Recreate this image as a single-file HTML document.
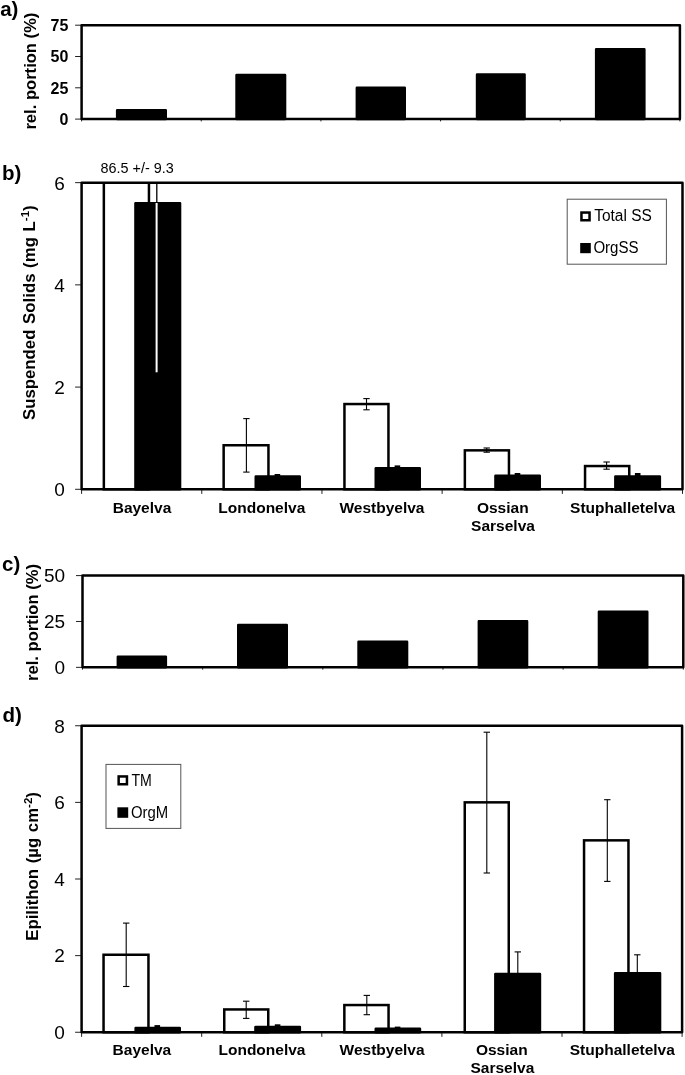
<!DOCTYPE html>
<html lang="en">
<head>
<meta charset="utf-8">
<title>Figure</title>
<style>
html,body{margin:0;padding:0;background:#fff;}
svg{display:block;}
text{font-family:"Liberation Sans",sans-serif;fill:#000;}
</style>
</head>
<body>
<svg width="685" height="1075" viewBox="0 0 685 1075">
<rect x="0" y="0" width="685" height="1075" fill="#fff"/>
<line x1="75.1" y1="119.1" x2="81.6" y2="119.1" stroke="#222" stroke-width="1"/>
<line x1="75.1" y1="87.8" x2="81.6" y2="87.8" stroke="#222" stroke-width="1"/>
<line x1="75.1" y1="56.5" x2="81.6" y2="56.5" stroke="#222" stroke-width="1"/>
<line x1="75.1" y1="25.200000000000003" x2="81.6" y2="25.200000000000003" stroke="#222" stroke-width="1"/>
<line x1="81.60" y1="119.1" x2="81.60" y2="121.39999999999999" stroke="#222" stroke-width="1"/>
<line x1="201.26" y1="119.1" x2="201.26" y2="121.39999999999999" stroke="#222" stroke-width="1"/>
<line x1="320.92" y1="119.1" x2="320.92" y2="121.39999999999999" stroke="#222" stroke-width="1"/>
<line x1="440.58" y1="119.1" x2="440.58" y2="121.39999999999999" stroke="#222" stroke-width="1"/>
<line x1="560.24" y1="119.1" x2="560.24" y2="121.39999999999999" stroke="#222" stroke-width="1"/>
<line x1="679.90" y1="119.1" x2="679.90" y2="121.39999999999999" stroke="#222" stroke-width="1"/>
<rect x="117.15" y="110.25" width="48.60" height="8.85" fill="#000" stroke="#000" stroke-width="2.5" stroke-linejoin="round"/>
<rect x="236.55" y="75.05" width="48.50" height="44.05" fill="#000" stroke="#000" stroke-width="2.5" stroke-linejoin="round"/>
<rect x="356.85" y="87.75" width="47.90" height="31.35" fill="#000" stroke="#000" stroke-width="2.5" stroke-linejoin="round"/>
<rect x="477.05" y="74.45" width="47.50" height="44.65" fill="#000" stroke="#000" stroke-width="2.5" stroke-linejoin="round"/>
<rect x="596.15" y="49.25" width="48.20" height="69.85" fill="#000" stroke="#000" stroke-width="2.5" stroke-linejoin="round"/>
<rect x="81.6" y="25.2" width="598.3" height="93.89999999999999" fill="none" stroke="#000" stroke-width="2.5" stroke-linejoin="round"/>
<text x="68.4" y="124.8" font-size="16" font-weight="bold" text-anchor="end" >0</text>
<text x="68.4" y="93.5" font-size="16" font-weight="bold" text-anchor="end" >25</text>
<text x="68.4" y="62.2" font-size="16" font-weight="bold" text-anchor="end" >50</text>
<text x="68.4" y="30.9" font-size="16" font-weight="bold" text-anchor="end" >75</text>
<text x="0.2" y="16.4" font-size="20.5" font-weight="bold" text-anchor="start" >a)</text>
<text transform="translate(35.8,129.6) rotate(-90)" font-size="16.6" font-weight="bold" textLength="117" lengthAdjust="spacingAndGlyphs">rel. portion (%)</text>
<line x1="75.1" y1="489.3" x2="81.6" y2="489.3" stroke="#222" stroke-width="1"/>
<line x1="75.1" y1="387.08333333333337" x2="81.6" y2="387.08333333333337" stroke="#222" stroke-width="1"/>
<line x1="75.1" y1="284.8666666666667" x2="81.6" y2="284.8666666666667" stroke="#222" stroke-width="1"/>
<line x1="75.1" y1="182.65000000000003" x2="81.6" y2="182.65000000000003" stroke="#222" stroke-width="1"/>
<line x1="81.60" y1="489.3" x2="81.60" y2="493.90000000000003" stroke="#222" stroke-width="1"/>
<line x1="201.78" y1="489.3" x2="201.78" y2="493.90000000000003" stroke="#222" stroke-width="1"/>
<line x1="321.96" y1="489.3" x2="321.96" y2="493.90000000000003" stroke="#222" stroke-width="1"/>
<line x1="442.14" y1="489.3" x2="442.14" y2="493.90000000000003" stroke="#222" stroke-width="1"/>
<line x1="562.32" y1="489.3" x2="562.32" y2="493.90000000000003" stroke="#222" stroke-width="1"/>
<line x1="682.50" y1="489.3" x2="682.50" y2="493.90000000000003" stroke="#222" stroke-width="1"/>
<clipPath id="cb"><rect x="81.6" y="182.65" width="600.9" height="308.65"/></clipPath>
<g clip-path="url(#cb)">
<rect x="103.85" y="101.25" width="45.10" height="388.05" fill="#fff" stroke="#000" stroke-width="2.5"/>
</g>
<rect x="223.65" y="445.25" width="44.80" height="44.05" fill="#fff" stroke="#000" stroke-width="2.5"/>
<rect x="344.45" y="404.05" width="44.00" height="85.25" fill="#fff" stroke="#000" stroke-width="2.5"/>
<rect x="464.85" y="450.35" width="44.10" height="38.95" fill="#fff" stroke="#000" stroke-width="2.5"/>
<rect x="585.05" y="466.05" width="44.20" height="23.25" fill="#fff" stroke="#000" stroke-width="2.5"/>
<line x1="246.4" y1="418.6" x2="246.4" y2="472.1" stroke="#000" stroke-width="1.1"/>
<line x1="243.20000000000002" y1="418.6" x2="249.6" y2="418.6" stroke="#000" stroke-width="1.1"/>
<line x1="243.20000000000002" y1="472.1" x2="249.6" y2="472.1" stroke="#000" stroke-width="1.1"/>
<line x1="366.5" y1="398.6" x2="366.5" y2="409.8" stroke="#000" stroke-width="1.1"/>
<line x1="363.3" y1="398.6" x2="369.7" y2="398.6" stroke="#000" stroke-width="1.1"/>
<line x1="363.3" y1="409.8" x2="369.7" y2="409.8" stroke="#000" stroke-width="1.1"/>
<line x1="486.7" y1="448.0" x2="486.7" y2="452.2" stroke="#000" stroke-width="1.1"/>
<line x1="483.5" y1="448.0" x2="489.9" y2="448.0" stroke="#000" stroke-width="1.1"/>
<line x1="483.5" y1="452.2" x2="489.9" y2="452.2" stroke="#000" stroke-width="1.1"/>
<line x1="606.6" y1="462.0" x2="606.6" y2="469.2" stroke="#000" stroke-width="1.1"/>
<line x1="603.4" y1="462.0" x2="609.8000000000001" y2="462.0" stroke="#000" stroke-width="1.1"/>
<line x1="603.4" y1="469.2" x2="609.8000000000001" y2="469.2" stroke="#000" stroke-width="1.1"/>
<rect x="135.45" y="203.35" width="44.60" height="285.95" fill="#000" stroke="#000" stroke-width="2.5" stroke-linejoin="round"/>
<rect x="255.75" y="476.55" width="44.00" height="12.75" fill="#000" stroke="#000" stroke-width="2.5" stroke-linejoin="round"/>
<rect x="375.75" y="468.15" width="44.00" height="21.15" fill="#000" stroke="#000" stroke-width="2.5" stroke-linejoin="round"/>
<rect x="495.45" y="475.65" width="44.30" height="13.65" fill="#000" stroke="#000" stroke-width="2.5" stroke-linejoin="round"/>
<rect x="615.35" y="476.45" width="44.50" height="12.85" fill="#000" stroke="#000" stroke-width="2.5" stroke-linejoin="round"/>
<line x1="156.8" y1="182.65" x2="156.8" y2="203" stroke="#000" stroke-width="1.3"/>
<line x1="156.6" y1="203" x2="156.6" y2="372.3" stroke="#fff" stroke-width="2.0"/>
<rect x="274.60" y="474.00" width="5.6" height="2.30" fill="#000"/>
<rect x="394.60" y="465.40" width="5.6" height="2.50" fill="#000"/>
<rect x="514.70" y="473.00" width="5.6" height="2.40" fill="#000"/>
<rect x="634.90" y="473.00" width="5.6" height="3.20" fill="#000"/>
<rect x="81.6" y="182.65" width="600.9" height="306.65" fill="none" stroke="#000" stroke-width="2.5" stroke-linejoin="round"/>
<text x="64.8" y="496.1" font-size="19" font-weight="normal" text-anchor="end" >0</text>
<text x="64.8" y="393.9" font-size="19" font-weight="normal" text-anchor="end" >2</text>
<text x="64.8" y="291.7" font-size="19" font-weight="normal" text-anchor="end" >4</text>
<text x="64.8" y="189.5" font-size="19" font-weight="normal" text-anchor="end" >6</text>
<text x="2.0" y="179.5" font-size="20.5" font-weight="bold" text-anchor="start" >b)</text>
<text x="100.5" y="172.7" font-size="14.6" font-weight="normal" text-anchor="start" textLength="73.2" lengthAdjust="spacingAndGlyphs">86.5 +/- 9.3</text>
<text transform="translate(34.8,420.0) rotate(-90)" font-size="16.8" font-weight="bold" word-spacing="1">Suspended Solids (mg L<tspan font-size="11.5" dy="-6">-1</tspan><tspan dy="6">)</tspan></text>
<text x="142.0" y="513.0" font-size="15.5" font-weight="bold" text-anchor="middle" >Bayelva</text>
<text x="261.8" y="513.0" font-size="15.5" font-weight="bold" text-anchor="middle" >Londonelva</text>
<text x="382.0" y="513.0" font-size="15.5" font-weight="bold" text-anchor="middle" >Westbyelva</text>
<text x="502.8" y="513.0" font-size="15.5" font-weight="bold" text-anchor="middle" >Ossian</text>
<text x="622.6" y="513.0" font-size="15.5" font-weight="bold" text-anchor="middle" >Stuphalletelva</text>
<text x="503.0" y="530.6" font-size="15.5" font-weight="bold" text-anchor="middle" >Sarselva</text>
<rect x="567.2" y="199.2" width="99.2" height="65" fill="#fff" stroke="#555" stroke-width="1"/>
<rect x="581.45" y="212.55" width="8.1" height="7.7" fill="#fff" stroke="#000" stroke-width="2.5"/>
<rect x="580.2" y="243.0" width="10.6" height="10.2" fill="#000"/>
<text x="594.2" y="221.4" font-size="16" font-weight="normal" text-anchor="start" textLength="57.6" lengthAdjust="spacingAndGlyphs">Total SS</text>
<text x="593.4" y="253.2" font-size="16" font-weight="normal" text-anchor="start" textLength="45.2" lengthAdjust="spacingAndGlyphs">OrgSS</text>
<line x1="76.0" y1="667.35" x2="82.5" y2="667.35" stroke="#222" stroke-width="1"/>
<line x1="76.0" y1="621.475" x2="82.5" y2="621.475" stroke="#222" stroke-width="1"/>
<line x1="76.0" y1="575.6" x2="82.5" y2="575.6" stroke="#222" stroke-width="1"/>
<line x1="82.50" y1="667.35" x2="82.50" y2="669.65" stroke="#222" stroke-width="1"/>
<line x1="202.66" y1="667.35" x2="202.66" y2="669.65" stroke="#222" stroke-width="1"/>
<line x1="322.82" y1="667.35" x2="322.82" y2="669.65" stroke="#222" stroke-width="1"/>
<line x1="442.98" y1="667.35" x2="442.98" y2="669.65" stroke="#222" stroke-width="1"/>
<line x1="563.14" y1="667.35" x2="563.14" y2="669.65" stroke="#222" stroke-width="1"/>
<line x1="683.30" y1="667.35" x2="683.30" y2="669.65" stroke="#222" stroke-width="1"/>
<rect x="117.85" y="656.65" width="48.00" height="10.70" fill="#000" stroke="#000" stroke-width="2.5" stroke-linejoin="round"/>
<rect x="238.25" y="625.05" width="48.50" height="42.30" fill="#000" stroke="#000" stroke-width="2.5" stroke-linejoin="round"/>
<rect x="358.55" y="641.65" width="48.50" height="25.70" fill="#000" stroke="#000" stroke-width="2.5" stroke-linejoin="round"/>
<rect x="478.85" y="621.35" width="48.20" height="46.00" fill="#000" stroke="#000" stroke-width="2.5" stroke-linejoin="round"/>
<rect x="598.95" y="611.65" width="48.30" height="55.70" fill="#000" stroke="#000" stroke-width="2.5" stroke-linejoin="round"/>
<rect x="82.5" y="575.6" width="600.8" height="91.75" fill="none" stroke="#000" stroke-width="2.5" stroke-linejoin="round"/>
<text x="65.2" y="674.1" font-size="19" font-weight="normal" text-anchor="end" >0</text>
<text x="65.2" y="628.3" font-size="19" font-weight="normal" text-anchor="end" >25</text>
<text x="65.2" y="582.4" font-size="19" font-weight="normal" text-anchor="end" >50</text>
<text x="2.0" y="570.8" font-size="20.5" font-weight="bold" text-anchor="start" >c)</text>
<text transform="translate(37.9,681.0) rotate(-90)" font-size="16.6" font-weight="bold" textLength="117" lengthAdjust="spacingAndGlyphs">rel. portion (%)</text>
<line x1="75.1" y1="1032.25" x2="81.6" y2="1032.25" stroke="#222" stroke-width="1"/>
<line x1="75.1" y1="955.625" x2="81.6" y2="955.625" stroke="#222" stroke-width="1"/>
<line x1="75.1" y1="879.0" x2="81.6" y2="879.0" stroke="#222" stroke-width="1"/>
<line x1="75.1" y1="802.375" x2="81.6" y2="802.375" stroke="#222" stroke-width="1"/>
<line x1="75.1" y1="725.75" x2="81.6" y2="725.75" stroke="#222" stroke-width="1"/>
<line x1="81.60" y1="1032.25" x2="81.60" y2="1036.85" stroke="#222" stroke-width="1"/>
<line x1="201.70" y1="1032.25" x2="201.70" y2="1036.85" stroke="#222" stroke-width="1"/>
<line x1="321.80" y1="1032.25" x2="321.80" y2="1036.85" stroke="#222" stroke-width="1"/>
<line x1="441.90" y1="1032.25" x2="441.90" y2="1036.85" stroke="#222" stroke-width="1"/>
<line x1="562.00" y1="1032.25" x2="562.00" y2="1036.85" stroke="#222" stroke-width="1"/>
<line x1="682.10" y1="1032.25" x2="682.10" y2="1036.85" stroke="#222" stroke-width="1"/>
<rect x="103.55" y="954.75" width="44.90" height="77.50" fill="#fff" stroke="#000" stroke-width="2.5"/>
<rect x="224.25" y="1009.45" width="44.00" height="22.80" fill="#fff" stroke="#000" stroke-width="2.5"/>
<rect x="344.35" y="1005.05" width="44.20" height="27.20" fill="#fff" stroke="#000" stroke-width="2.5"/>
<rect x="464.75" y="802.35" width="44.00" height="229.90" fill="#fff" stroke="#000" stroke-width="2.5"/>
<rect x="584.05" y="840.35" width="44.40" height="191.90" fill="#fff" stroke="#000" stroke-width="2.5"/>
<line x1="126.2" y1="923.1" x2="126.2" y2="986.5" stroke="#000" stroke-width="1.1"/>
<line x1="123.0" y1="923.1" x2="129.4" y2="923.1" stroke="#000" stroke-width="1.1"/>
<line x1="123.0" y1="986.5" x2="129.4" y2="986.5" stroke="#000" stroke-width="1.1"/>
<line x1="246.2" y1="1001.2" x2="246.2" y2="1018.4" stroke="#000" stroke-width="1.1"/>
<line x1="243.0" y1="1001.2" x2="249.39999999999998" y2="1001.2" stroke="#000" stroke-width="1.1"/>
<line x1="243.0" y1="1018.4" x2="249.39999999999998" y2="1018.4" stroke="#000" stroke-width="1.1"/>
<line x1="366.8" y1="995.4" x2="366.8" y2="1014.7" stroke="#000" stroke-width="1.1"/>
<line x1="363.6" y1="995.4" x2="370.0" y2="995.4" stroke="#000" stroke-width="1.1"/>
<line x1="363.6" y1="1014.7" x2="370.0" y2="1014.7" stroke="#000" stroke-width="1.1"/>
<line x1="486.8" y1="732.2" x2="486.8" y2="873.0" stroke="#000" stroke-width="1.1"/>
<line x1="483.6" y1="732.2" x2="490.0" y2="732.2" stroke="#000" stroke-width="1.1"/>
<line x1="483.6" y1="873.0" x2="490.0" y2="873.0" stroke="#000" stroke-width="1.1"/>
<line x1="607.3" y1="799.7" x2="607.3" y2="881.4" stroke="#000" stroke-width="1.1"/>
<line x1="604.0999999999999" y1="799.7" x2="610.5" y2="799.7" stroke="#000" stroke-width="1.1"/>
<line x1="604.0999999999999" y1="881.4" x2="610.5" y2="881.4" stroke="#000" stroke-width="1.1"/>
<rect x="135.65" y="1027.95" width="44.10" height="4.30" fill="#000" stroke="#000" stroke-width="2.5" stroke-linejoin="round"/>
<rect x="255.45" y="1026.95" width="44.40" height="5.30" fill="#000" stroke="#000" stroke-width="2.5" stroke-linejoin="round"/>
<rect x="375.75" y="1028.75" width="44.20" height="3.50" fill="#000" stroke="#000" stroke-width="2.5" stroke-linejoin="round"/>
<rect x="495.35" y="973.95" width="44.60" height="58.30" fill="#000" stroke="#000" stroke-width="2.5" stroke-linejoin="round"/>
<rect x="615.15" y="973.25" width="44.90" height="59.00" fill="#000" stroke="#000" stroke-width="2.5" stroke-linejoin="round"/>
<rect x="154.50" y="1025.10" width="5.6" height="2.60" fill="#000"/>
<rect x="274.80" y="1024.30" width="5.6" height="2.40" fill="#000"/>
<rect x="394.80" y="1026.60" width="5.6" height="1.90" fill="#000"/>
<line x1="517.8" y1="951.9" x2="517.8" y2="974" stroke="#000" stroke-width="1.1"/>
<line x1="514.5999999999999" y1="951.9" x2="521.0" y2="951.9" stroke="#000" stroke-width="1.1"/>
<line x1="637.3" y1="954.8" x2="637.3" y2="974" stroke="#000" stroke-width="1.1"/>
<line x1="634.0999999999999" y1="954.8" x2="640.5" y2="954.8" stroke="#000" stroke-width="1.1"/>
<rect x="81.6" y="725.75" width="600.5" height="306.5" fill="none" stroke="#000" stroke-width="2.5" stroke-linejoin="round"/>
<text x="64.8" y="1039.0" font-size="19" font-weight="normal" text-anchor="end" >0</text>
<text x="64.8" y="962.4" font-size="19" font-weight="normal" text-anchor="end" >2</text>
<text x="64.8" y="885.8" font-size="19" font-weight="normal" text-anchor="end" >4</text>
<text x="64.8" y="809.2" font-size="19" font-weight="normal" text-anchor="end" >6</text>
<text x="64.8" y="732.5" font-size="19" font-weight="normal" text-anchor="end" >8</text>
<text x="2.4" y="722.2" font-size="20.5" font-weight="bold" text-anchor="start" >d)</text>
<text transform="translate(37.9,940.8) rotate(-90)" font-size="16.8" font-weight="bold" word-spacing="1">Epilithon (µg cm<tspan font-size="11.5" dy="-6">-2</tspan><tspan dy="6">)</tspan></text>
<text x="141.9" y="1055.4" font-size="15.5" font-weight="bold" text-anchor="middle" >Bayelva</text>
<text x="262.0" y="1055.4" font-size="15.5" font-weight="bold" text-anchor="middle" >Londonelva</text>
<text x="382.1" y="1055.4" font-size="15.5" font-weight="bold" text-anchor="middle" >Westbyelva</text>
<text x="501.8" y="1055.4" font-size="15.5" font-weight="bold" text-anchor="middle" >Ossian</text>
<text x="622.3" y="1055.4" font-size="15.5" font-weight="bold" text-anchor="middle" >Stuphalletelva</text>
<text x="502.4" y="1073.4" font-size="15.5" font-weight="bold" text-anchor="middle" >Sarselva</text>
<rect x="106.0" y="764.4" width="74.8" height="64" fill="#fff" stroke="#555" stroke-width="1"/>
<rect x="118.65" y="776.45" width="8.3" height="7.8" fill="#fff" stroke="#000" stroke-width="2.5"/>
<rect x="117.4" y="807.3" width="10.8" height="10.5" fill="#000"/>
<text x="131.4" y="785.5" font-size="16" font-weight="normal" text-anchor="start" textLength="20.4" lengthAdjust="spacingAndGlyphs">TM</text>
<text x="131.0" y="817.9" font-size="16" font-weight="normal" text-anchor="start" textLength="37.2" lengthAdjust="spacingAndGlyphs">OrgM</text>
</svg>
</body>
</html>
